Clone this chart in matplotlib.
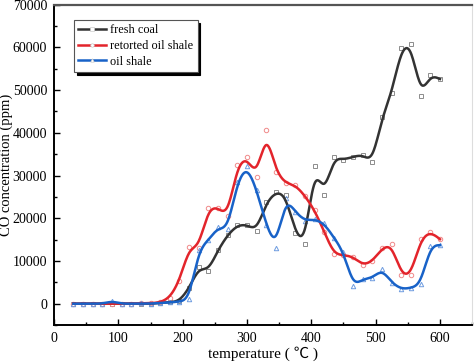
import numpy as np
import matplotlib
matplotlib.use("Agg")
import matplotlib.pyplot as plt
from matplotlib.lines import Line2D
from matplotlib.ticker import MultipleLocator

plt.rcParams['font.family'] = ['Liberation Serif', 'Noto Sans CJK SC']

# measured points, every 15 degC from 30 to 600
temp = list(range(30, 601, 15))
fresh_coal = [0, 0, 0, 0, 0, 0, 0, 0, 0, 200,
              300, 600, 3600, 8500, 7700, 12600, 16100, 18400, 18500, 17100,
              23700, 26200, 25500, 16600, 14000, 32300, 25500, 34300, 33700, 34400,
              34900, 33100, 43700, 49300, 59800, 60800, 48600, 53600, 52600]
retorted = [0, 0, 0, 0, 0, 0, 0, 100, 100, 300,
            1400, 5300, 13200, 13100, 22400, 22500, 20500, 32400, 34300, 29600,
            40600, 30900, 28200, 27800, 25300, 21900, 16900, 11600, 11400, 11000,
            9000, 9900, 13000, 13900, 6700, 6700, 15100, 16900, 15100]
oil_shale = [0, 0, 0, 0, 600, 0, 0, 100, 0, 200,
             300, 500, 1000, 12600, 14900, 17900, 17400, 28600, 32300, 26700,
             18400, 13100, 24800, 21500, 19400, 19800, 18800, 15500, 12200, 4100,
             5800, 6000, 8100, 4900, 3400, 3700, 4500, 13600, 13700]


def bspline(x, y, n=20):
    # uniform cubic B-spline with the points as control points (ends clamped)
    px = np.r_[[x[0]] * 2, x, [x[-1]] * 2].astype(float)
    py = np.r_[[y[0]] * 2, y, [y[-1]] * 2].astype(float)
    t = np.linspace(0, 1, n, endpoint=False)
    b0 = (1 - t) ** 3 / 6
    b1 = (3 * t ** 3 - 6 * t ** 2 + 4) / 6
    b2 = (-3 * t ** 3 + 3 * t ** 2 + 3 * t + 1) / 6
    b3 = t ** 3 / 6
    xs, ys = [], []
    for i in range(len(px) - 3):
        xs.append(b0 * px[i] + b1 * px[i + 1] + b2 * px[i + 2] + b3 * px[i + 3])
        ys.append(b0 * py[i] + b1 * py[i + 1] + b2 * py[i + 2] + b3 * py[i + 3])
    xs.append([px[-1]])
    ys.append([py[-1]])
    return np.concatenate(xs), np.concatenate(ys)


fig = plt.figure(figsize=(4.74, 3.62), dpi=100)
ax = fig.add_axes([0.114, 0.102, 0.882, 0.885])

series = [
    (fresh_coal, 'fresh coal', '#333333', '#8c8c8c', 's'),
    (retorted, 'retorted oil shale', '#e3242b', '#f08a8a', 'o'),
    (oil_shale, 'oil shale', '#1862c8', '#6f9de0', '^'),
]

handles = []
for vals, name, c, mc, m in series:
    sx, sy = bspline(temp, vals)
    ax.plot(sx, sy, color=c, lw=1.8, zorder=3)
    ax.plot(temp, vals, ls='none', marker=m, ms=3.2, mfc='none', mec=mc,
            mew=0.7, zorder=2)
    handles.append(Line2D([], [], color=c, lw=1.8, marker=m, ms=2.5,
                          mfc='white', mec='#cccccc', mew=0.5, label=name))

ax.set_xlim(0, 650)
ax.set_ylim(-5000, 70000)
ax.xaxis.set_minor_locator(MultipleLocator(50))
ax.yaxis.set_minor_locator(MultipleLocator(5000))
ax.set_xticks(range(0, 601, 100))
ax.set_yticks(range(0, 70001, 10000))
ax.tick_params(which='both', direction='in', labelsize=10, width=1.0)
ax.tick_params(which='major', length=4.5, pad=5)
ax.tick_params(which='minor', length=2.5)
ax.tick_params(axis='x', which='both', top=False)
ax.tick_params(axis='y', which='both', right=False)

ax.spines['left'].set_linewidth(1.4)
ax.spines['bottom'].set_linewidth(1.4)
ax.spines['top'].set_linewidth(1.6)
ax.spines['top'].set_color('#555555')
ax.spines['right'].set_linewidth(0.8)
ax.spines['right'].set_color('#dddddd')

ax.set_xlabel('temperature ( \u2103 )', fontsize=11, labelpad=1)
ax.set_ylabel('CO concentration (ppm)', fontsize=10.5, va='center')
ax.yaxis.set_label_coords(-0.114, 0.5)

leg = ax.legend(handles=handles, loc='upper left', bbox_to_anchor=(0.048, 0.952),
                borderaxespad=0, fontsize=8.8, frameon=True, fancybox=False,
                shadow={'color': 'black', 'alpha': 1}, handlelength=2.3,
                handletextpad=0.3, labelspacing=0.3, borderpad=0.35)
leg.get_frame().set_edgecolor('#555555')
leg.get_frame().set_linewidth(0.8)

fig.savefig('out.png', dpi=100)
